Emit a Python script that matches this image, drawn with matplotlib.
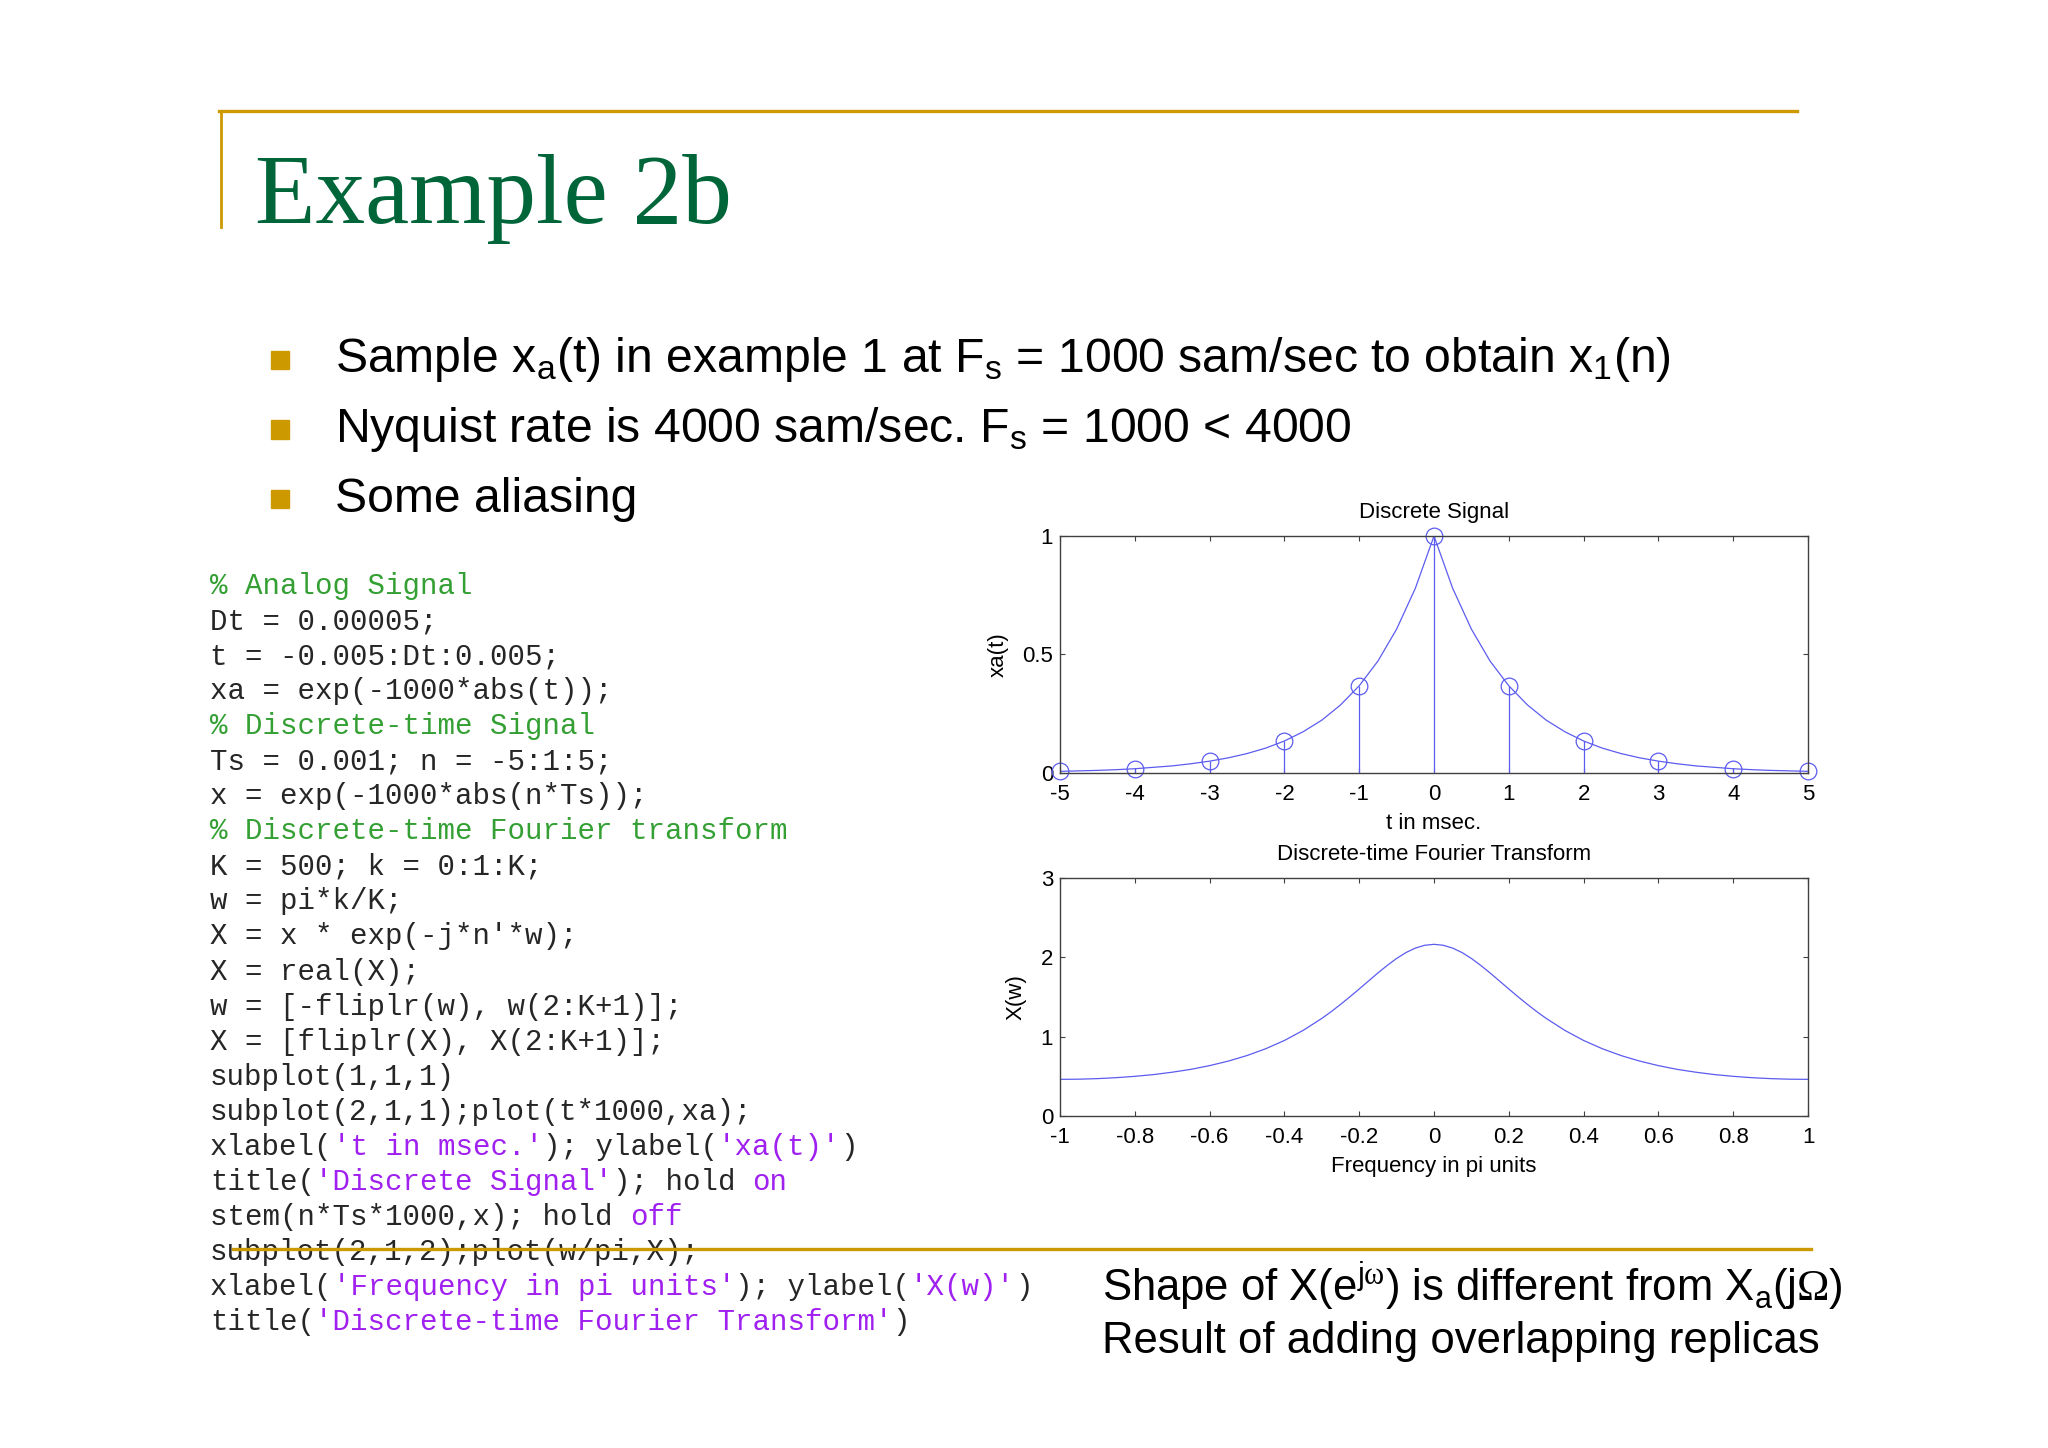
import re
import matplotlib
matplotlib.use("Agg")
import matplotlib.pyplot as plt
from matplotlib.lines import Line2D
from matplotlib.patches import Rectangle

plt.rcParams['font.family'] = ['Liberation Sans', 'DejaVu Sans']
plt.rcParams['mathtext.fontset'] = 'custom'
plt.rcParams['mathtext.rm'] = 'Liberation Sans'
plt.rcParams['mathtext.it'] = 'Liberation Sans:italic'
plt.rcParams['mathtext.sf'] = 'Liberation Serif'
plt.rcParams['axes.unicode_minus'] = False

# ---- data ----
# analog signal xa(t), t in msec
t_ms = [-5, -4.75, -4.5, -4.25, -4, -3.75, -3.5, -3.25, -3, -2.75, -2.5, -2.25, -2, -1.75,
        -1.5, -1.25, -1, -0.75, -0.5, -0.25, 0, 0.25, 0.5, 0.75, 1, 1.25, 1.5, 1.75, 2,
        2.25, 2.5, 2.75, 3, 3.25, 3.5, 3.75, 4, 4.25, 4.5, 4.75, 5]
xa_vals = [0.007, 0.009, 0.011, 0.014, 0.018, 0.024, 0.030, 0.039, 0.050, 0.064, 0.082,
           0.105, 0.135, 0.174, 0.223, 0.287, 0.368, 0.472, 0.607, 0.779, 1.0, 0.779,
           0.607, 0.472, 0.368, 0.287, 0.223, 0.174, 0.135, 0.105, 0.082, 0.064, 0.050,
           0.039, 0.030, 0.024, 0.018, 0.014, 0.011, 0.009, 0.007]

# discrete samples x(n)
n_ms = [-5, -4, -3, -2, -1, 0, 1, 2, 3, 4, 5]
x_vals = [0.007, 0.018, 0.050, 0.135, 0.368, 1.0, 0.368, 0.135, 0.050, 0.018, 0.007]

# DTFT X(w), frequency in pi units
freq = [-1, -0.95, -0.9, -0.85, -0.8, -0.75, -0.7, -0.65, -0.6, -0.55, -0.5, -0.45, -0.4,
        -0.35, -0.3, -0.275, -0.25, -0.225, -0.2, -0.175, -0.15, -0.125, -0.1, -0.075,
        -0.05, -0.025, 0, 0.025, 0.05, 0.075, 0.1, 0.125, 0.15, 0.175, 0.2, 0.225, 0.25,
        0.275, 0.3, 0.35, 0.4, 0.45, 0.5, 0.55, 0.6, 0.65, 0.7, 0.75, 0.8, 0.85, 0.9,
        0.95, 1]
X_vals = [0.462, 0.464, 0.471, 0.483, 0.500, 0.522, 0.552, 0.588, 0.635, 0.692, 0.762,
          0.848, 0.952, 1.079, 1.230, 1.315, 1.406, 1.502, 1.601, 1.702, 1.803, 1.898,
          1.986, 2.060, 2.116, 2.152, 2.164, 2.152, 2.116, 2.060, 1.986, 1.898, 1.803,
          1.702, 1.601, 1.502, 1.406, 1.315, 1.230, 1.079, 0.952, 0.848, 0.762, 0.692,
          0.635, 0.588, 0.552, 0.522, 0.500, 0.483, 0.471, 0.464, 0.462]

t_ticks = [-5, -4, -3, -2, -1, 0, 1, 2, 3, 4, 5]
t_ticklabels = ['-5', '-4', '-3', '-2', '-1', '0', '1', '2', '3', '4', '5']
xa_ticks = [0, 0.5, 1]
xa_ticklabels = ['0', '0.5', '1']
f_ticks = [-1, -0.8, -0.6, -0.4, -0.2, 0, 0.2, 0.4, 0.6, 0.8, 1]
f_ticklabels = ['-1', '-0.8', '-0.6', '-0.4', '-0.2', '0', '0.2', '0.4', '0.6', '0.8', '1']
X_ticks = [0, 1, 2, 3]
X_ticklabels = ['0', '1', '2', '3']

slide_title = 'Example 2b'
bullets = [
    r'Sample x$_{\mathregular{a}}$(t) in example 1 at F$_{\mathregular{s}}$ = 1000 sam/sec to obtain x$_{\mathregular{1}}$(n)',
    r'Nyquist rate is 4000 sam/sec. F$_{\mathregular{s}}$ = 1000 < 4000',
    'Some aliasing',
]
notes = [
    r'Shape of X(e$^{\mathregular{j}\mathsf{\omega}}$) is different from X$_{\mathregular{a}}$(j$\mathsf{\Omega}$)',
    'Result of adding overlapping replicas',
]
code_lines = [
    "% Analog Signal",
    "Dt = 0.00005;",
    "t = -0.005:Dt:0.005;",
    "xa = exp(-1000*abs(t));",
    "% Discrete-time Signal",
    "Ts = 0.001; n = -5:1:5;",
    "x = exp(-1000*abs(n*Ts));",
    "% Discrete-time Fourier transform",
    "K = 500; k = 0:1:K;",
    "w = pi*k/K;",
    "X = x * exp(-j*n'*w);",
    "X = real(X);",
    "w = [-fliplr(w), w(2:K+1)];",
    "X = [fliplr(X), X(2:K+1)];",
    "subplot(1,1,1)",
    "subplot(2,1,1);plot(t*1000,xa);",
    "xlabel('t in msec.'); ylabel('xa(t)')",
    "title('Discrete Signal'); hold on",
    "stem(n*Ts*1000,x); hold off",
    "subplot(2,1,2);plot(w/pi,X);",
    "xlabel('Frequency in pi units'); ylabel('X(w)')",
    "title('Discrete-time Fourier Transform')",
]

# ---- colours ----
gold = '#CC9900'
title_green = '#00663A'
comment_green = '#34A034'
string_purple = '#A020F0'
code_black = '#262626'
line_blue = '#5C5CF0'
axis_grey = '#404040'

W, H = 2048, 1448
fig = plt.figure(figsize=(W / 100, H / 100), dpi=100)


def fx(px):
    return px / W


def fy(py):
    return 1 - py / H


# slide frame lines
fig.add_artist(Line2D([fx(219), fx(1797)], [fy(111), fy(111)], color=gold, lw=2.4,
                      transform=fig.transFigure))
fig.add_artist(Line2D([fx(221), fx(221)], [fy(111), fy(227)], color=gold, lw=2.0,
                      transform=fig.transFigure))

fig.text(fx(255), fy(223), slide_title, family='Liberation Serif', fontsize=71.5,
         color=title_green, va='baseline', ha='left')

# bullets
for i, txt in enumerate(bullets):
    yc = 360 + i * 69.5
    fig.add_artist(Rectangle((fx(271), fy(yc + 9)), 18 / W, 18 / H, color=gold,
                             transform=fig.transFigure))
    fig.text(fx(335), fy(372 + i * 70), txt, fontsize=34.7, color='black',
             va='baseline', ha='left')

# code listing (monospace, coloured like the MATLAB editor)
code_size = 21
char_w = 0.6001 * code_size * 100 / 72
for i, line in enumerate(code_lines):
    yb = fy(594 + i * 35.05)
    segs = []
    if line.startswith('%'):
        segs.append((0, line, comment_green))
    else:
        pos = 0
        for m in re.finditer(r"'[^']*'|(?<=hold )(?:on|off)\b", line):
            if m.start() > pos:
                segs.append((pos, line[pos:m.start()], code_black))
            segs.append((m.start(), m.group(), string_purple))
            pos = m.end()
        if pos < len(line):
            segs.append((pos, line[pos:], code_black))
    for start, s, c in segs:
        stripped = s.lstrip(' ')
        start += len(s) - len(stripped)
        if not stripped:
            continue
        fig.text(fx(210 + start * char_w), yb, stripped, family='Liberation Mono',
                 fontsize=code_size, color=c, va='baseline', ha='left')

# bottom separator goes over the code text
fig.add_artist(Line2D([fx(233), fx(1811)], [fy(1249), fy(1249)], color=gold, lw=2.4,
                      transform=fig.transFigure, zorder=10))

for i, txt in enumerate(notes):
    fig.text(fx(1102), fy(1301 + i * 52), txt, fontsize=31.4, color='black',
             va='baseline', ha='left')


def style_axes(ax):
    for sp in ax.spines.values():
        sp.set_color(axis_grey)
        sp.set_linewidth(1.0)
    ax.tick_params(direction='in', top=True, right=True, length=3.5, width=0.8,
                   color=axis_grey, labelsize=16, labelcolor='black')
    ax.tick_params(axis='x', pad=8)
    ax.tick_params(axis='y', pad=5)


# top subplot: discrete signal
ax1 = fig.add_axes([fx(1060), fy(773), 748 / W, 237 / H])
ax1.plot(t_ms, xa_vals, color=line_blue, lw=0.9)
markerline, stemlines, baseline = ax1.stem(n_ms, x_vals, basefmt=' ')
stemlines.set_color(line_blue)
stemlines.set_linewidth(0.9)
markerline.set_marker('o')
markerline.set_markersize(12)
markerline.set_markerfacecolor('none')
markerline.set_markeredgecolor(line_blue)
markerline.set_markeredgewidth(0.9)
markerline.set_linestyle('none')
markerline.set_clip_on(False)
ax1.set_xlim(-5, 5)
ax1.set_ylim(0, 1)
ax1.set_xticks(t_ticks, t_ticklabels)
ax1.set_yticks(xa_ticks, xa_ticklabels)
ax1.set_title('Discrete Signal', fontsize=16, pad=13)
ax1.set_xlabel('t in msec.', fontsize=16, labelpad=6)
ax1.set_ylabel('xa(t)', fontsize=16, labelpad=10)
style_axes(ax1)

# bottom subplot: DTFT
ax2 = fig.add_axes([fx(1060), fy(1116), 748 / W, 238 / H])
ax2.plot(freq, X_vals, color=line_blue, lw=0.9)
ax2.set_xlim(-1, 1)
ax2.set_ylim(0, 3)
ax2.set_xticks(f_ticks, f_ticklabels)
ax2.set_yticks(X_ticks, X_ticklabels)
ax2.set_title('Discrete-time Fourier Transform', fontsize=16, pad=13)
ax2.set_xlabel('Frequency in pi units', fontsize=16, labelpad=6)
ax2.set_ylabel('X(w)', fontsize=16, labelpad=10)
style_axes(ax2)

fig.savefig('out.png', dpi=100, facecolor='white')
